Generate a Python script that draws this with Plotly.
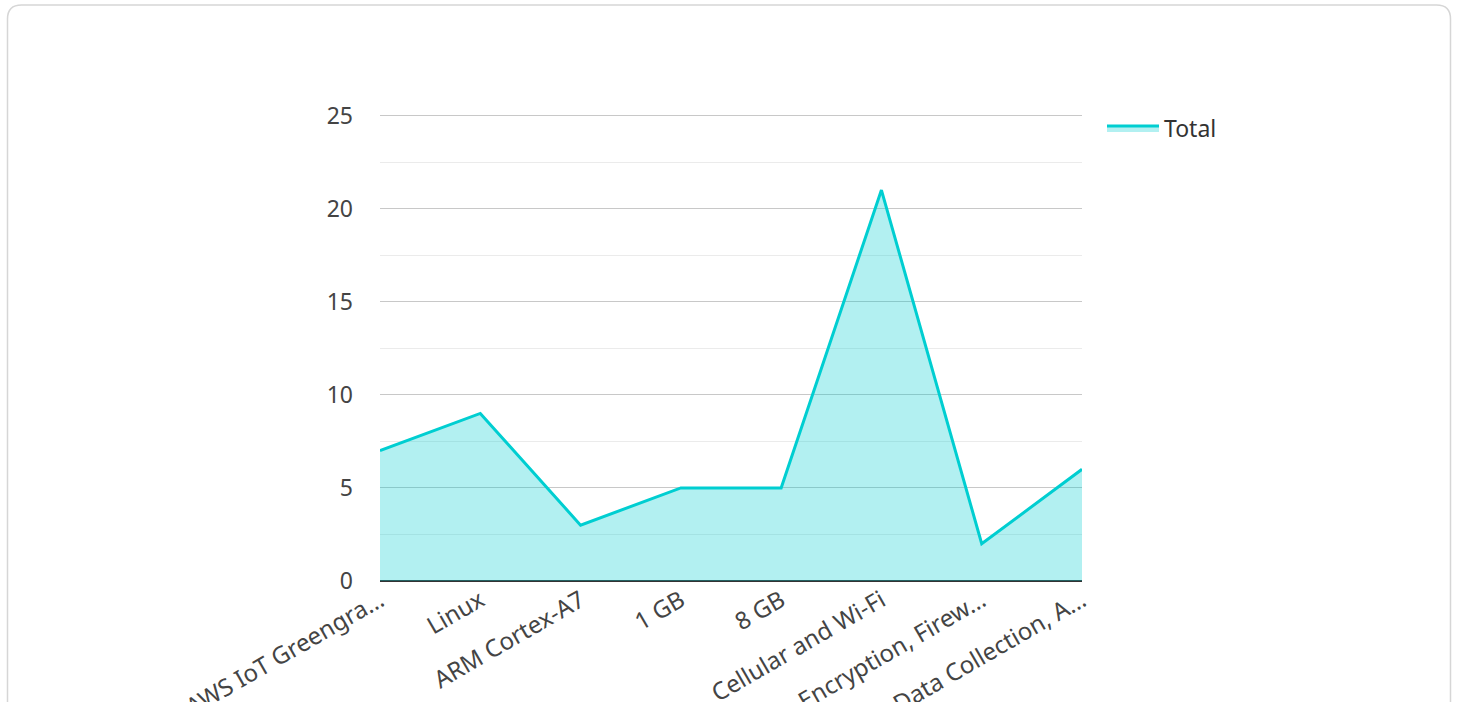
import plotly.graph_objects as go

categories = ["AWS IoT Greengra…", "Linux", "ARM Cortex-A7", "1 GB", "8 GB",
              "Cellular and Wi-Fi", "Data Encryption, Firew…", "Real-time Data Collection, A…"]
totals = [7, 9, 3, 5, 5, 21, 2, 6]
y_ticks = [0, 5, 10, 15, 20, 25]

W, H = 1458, 702
Y_MAX = 25.3
L, R, B = 380, 1082, 581
T = B - 465 * Y_MAX / 25  # keeps 25 at y=116

fig = go.Figure()
fig.add_trace(go.Scatter(
    x=categories, y=totals, name="Total", mode="lines",
    line=dict(color="#00CED1", width=3),
    fill="tozeroy", fillcolor="rgba(0,206,209,0.3)",
))

def px(x):
    return (x - L) / (R - L)

def py(y):
    return (B - y) / (B - T)

# rounded card border
x0, x1, y0, y1, r = 7.5, 1450.5, 5.5, 730, 14
path = (f"M {px(x0)},{py(y1)} L {px(x0)},{py(y0 + r)} "
        f"Q {px(x0)},{py(y0)} {px(x0 + r)},{py(y0)} "
        f"L {px(x1 - r)},{py(y0)} Q {px(x1)},{py(y0)} {px(x1)},{py(y0 + r)} "
        f"L {px(x1)},{py(y1)}")
fig.add_shape(type="path", path=path, xref="paper", yref="paper",
              line=dict(color="#d6d6d6", width=1.5), layer="below")

fig.update_layout(
    width=W, height=H,
    margin=dict(l=L, r=W - R, t=T, b=H - B),
    paper_bgcolor="white", plot_bgcolor="white",
    font=dict(family="Noto Sans", size=22, color="#444444"),
    showlegend=True,
    legend=dict(x=px(1102), y=py(107), xanchor="left", yanchor="top",
                itemwidth=52,
                font=dict(family="Noto Sans", size=23, color="#333333")),
    xaxis=dict(
        type="category", range=[0, len(categories) - 1],
        tickangle=-30, showgrid=False, zeroline=False, showline=False,
        tickfont=dict(family="Noto Sans", size=24, color="#444444"),
        ticks="", automargin=False,
    ),
    yaxis=dict(
        range=[0, Y_MAX], tickvals=y_ticks, showgrid=True, gridcolor="#c8c8c8",
        gridwidth=1, zeroline=True, zerolinecolor="#333333", zerolinewidth=2,
        showline=False, ticks="", ticklabelstandoff=26,
        tickfont=dict(family="Noto Sans", size=23, color="#444444"),
        minor=dict(tickvals=[2.5, 7.5, 12.5, 17.5, 22.5], showgrid=True,
                   gridcolor="#ebebeb", gridwidth=1),
        automargin=False,
    ),
)

fig.write_html("out.html")
